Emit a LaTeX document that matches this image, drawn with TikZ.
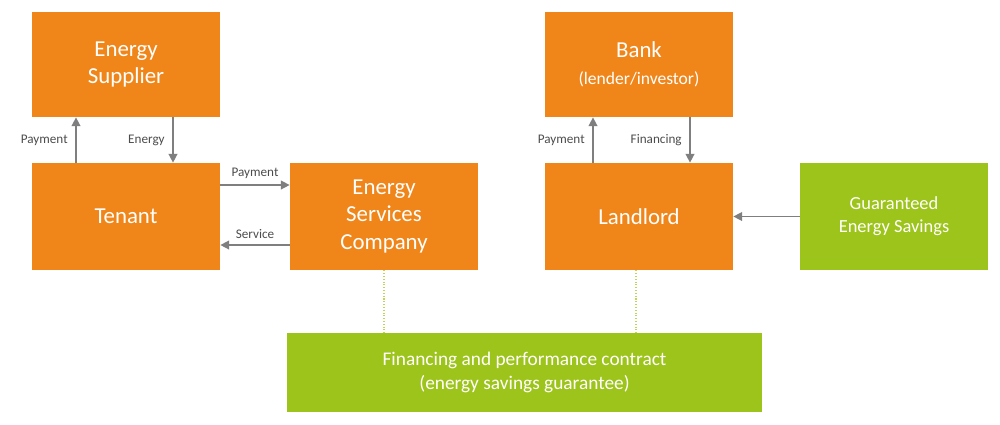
\documentclass[tikz,border=0pt]{standalone}
\usepackage{fontspec}
\setmainfont{Carlito}
\usetikzlibrary{arrows.meta}
\definecolor{org}{HTML}{F0861A}
\definecolor{grn}{HTML}{9DC41A}
\definecolor{arr}{HTML}{7F7F7F}
\begin{document}
\begin{tikzpicture}[x=0.02cm,y=-0.02cm,
 box/.style={fill=org,text=white,font=\fontsize{13}{15.5}\selectfont,align=center,inner sep=0pt},
 gbox/.style={fill=grn,text=white,align=center,inner sep=0pt},
 ar/.style={draw=arr,line width=0.8pt,-{Triangle[length=5pt,width=5pt]}},
 lab/.style={font=\fontsize{7.5}{9}\selectfont,text=black!70}]
\useasboundingbox (0,0) rectangle (1000,424);
\node[box,minimum width=188*0.02cm,minimum height=105*0.02cm] (sup) at (126,64.5) {Energy\\Supplier};
\node[box,minimum width=188*0.02cm,minimum height=107*0.02cm] (ten) at (126,216.5) {Tenant};
\node[box,minimum width=188*0.02cm,minimum height=107*0.02cm] (esc) at (384,216.5) {Energy\\Services\\Company};
\node[box,minimum width=188*0.02cm,minimum height=105*0.02cm] (bank) at (639,64.5) {Bank\\{\fontsize{10}{12}\selectfont (lender/investor)}};
\node[box,minimum width=188*0.02cm,minimum height=107*0.02cm] (land) at (639,216.5) {Landlord};
\node[gbox,font=\fontsize{10.5}{13}\selectfont,minimum width=188*0.02cm,minimum height=107*0.02cm] (gua) at (894,216.5) {Guaranteed\\Energy Savings};
\node[gbox,font=\fontsize{11}{14}\selectfont,minimum width=475*0.02cm,minimum height=79*0.02cm] (con) at (524.5,372.5) {Financing and performance contract\\(energy savings guarantee)};
\draw[ar] (ten.north -| 76,0) -- (sup.south -| 76,0) node[lab,midway,left=1pt] {Payment};
\draw[ar] (sup.south -| 173,0) -- (ten.north -| 173,0) node[lab,midway,left=1pt] {Energy};
\draw[ar] (ten.east |- 0,185) -- (esc.west |- 0,185) node[lab,midway,above=0pt] {Payment};
\draw[ar] (esc.west |- 0,245) -- (ten.east |- 0,245) node[lab,midway,above=0pt] {Service};
\draw[ar] (land.north -| 593,0) -- (bank.south -| 593,0) node[lab,midway,left=1pt] {Payment};
\draw[ar] (bank.south -| 690,0) -- (land.north -| 690,0) node[lab,midway,left=1pt] {Financing};
\draw[ar] (gua.west) -- (land.east);
\draw[grn!70,densely dotted,line width=0.6pt] (esc.south) -- (con.north -| esc.south);
\draw[grn!70,densely dotted,line width=0.6pt] (land.south -| 636,0) -- (con.north -| 636,0);
\end{tikzpicture}
\end{document}
